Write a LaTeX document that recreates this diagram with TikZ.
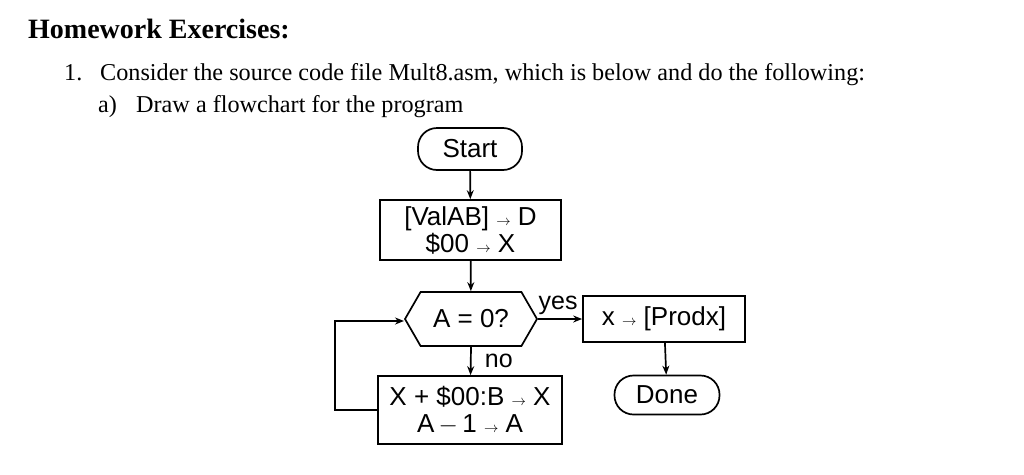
\documentclass[tikz,border=0pt]{standalone}
\usepackage{fontspec}
\setmainfont{Liberation Serif}
\newfontfamily\fsans{Liberation Sans}
\usetikzlibrary{arrows.meta,shapes.symbols}
\newcommand{\ar}{\;{\fontsize{14}{14}\selectfont$\rightarrow$}\;}
\begin{document}
\begin{tikzpicture}[x=1pt,y=-1pt,
  box/.style={draw,line width=1.7pt,font=\fsans\fontsize{26}{27}\selectfont,inner sep=0pt,align=center},
  term/.style={box,rounded corners=19pt},
  con/.style={line width=1.7pt,-{Stealth[length=9pt,width=7pt]}},
  lbl/.style={font=\fsans\fontsize{25}{26}\selectfont}]
\useasboundingbox[fill=white] (0,0) rectangle (1024,474);
\node[anchor=base west,inner sep=0pt,font=\bfseries\fontsize{28}{30}\selectfont] (t) at (28,38) {Homework Exercises:};
\node[anchor=base west,inner sep=0pt,font=\fontsize{24.2}{26}\selectfont] (n1) at (64,80) {1.};
\node[anchor=base west,inner sep=0pt,font=\fontsize{24.2}{26}\selectfont] (l1) at (100,80) {Consider the source code file Mult8.asm, which is below and do the following:};
\node[anchor=base west,inner sep=0pt,font=\fontsize{24.2}{26}\selectfont] (na) at (98,112) {a)};
\node[anchor=base west,inner sep=0pt,font=\fontsize{24.2}{26}\selectfont] (l2) at (136,112) {Draw a flowchart for the program};

\node[term,minimum width=104pt,minimum height=42pt] (start) at (470,149) {Start};
\node[box,minimum width=181pt,minimum height=60pt] (b1) at (470.5,230) {[ValAB]\ar D\\ \$00\ar X};
\node[box,shape=signal,signal to=west and east,signal pointer angle=120,minimum width=132pt,minimum height=54pt] (dec) at (471,319) {A = 0?};
\node[box,minimum width=162pt,minimum height=46pt] (pr) at (664,319) {x\ar [Prodx]};
\node[term,minimum width=105pt,minimum height=39pt] (done) at (667,395) {Done};
\node[box,minimum width=184pt,minimum height=68pt] (b2) at (470,410) {X + \$00:B\ar X\\ A\,$-$\,1\ar A};
\coordinate (c1) at (335,410);
\coordinate (c2) at (335,321);
\draw[con] (start) -- (b1);
\draw[con] (b1) -- (dec);
\draw[con] (dec.east) -- node[lbl,above,yshift=0pt,xshift=-2pt] {yes} (pr.west);
\draw[con] (pr) -- (done);
\draw[con] (dec.south) -- node[lbl,right,xshift=10pt] {no} (b2);
\draw[con] (b2.west) -- (c1) -- (c2) -- (dec.west |- c2);
\end{tikzpicture}
\end{document}
